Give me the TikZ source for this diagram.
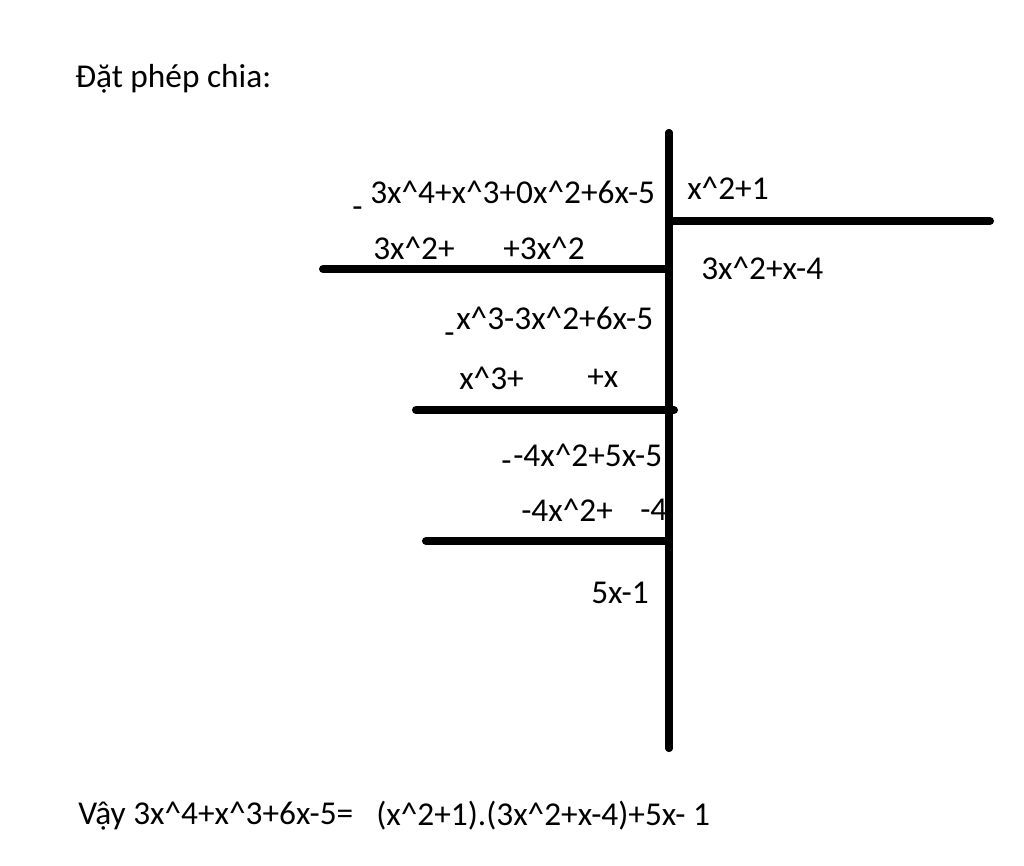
\documentclass[tikz,border=0pt]{standalone}
\usepackage{fontspec}
\setmainfont{Carlito}
\begin{document}
\begin{tikzpicture}[x=0.75pt,y=-0.75pt,
  bar/.style={line width=6pt,line cap=round},
  t/.style={anchor=west,inner sep=0pt,font=\fontsize{25}{28}\selectfont}]
\useasboundingbox[fill=white] (0,0) rectangle (1024,865);
\coordinate (vt) at (669,133); \coordinate (vb) at (669,748);
\draw[bar] (vt) -- (vb);
\coordinate (r1) at (672,221); \coordinate (r2) at (990,221);
\draw[bar] (r1) -- (r2);
\coordinate (a1) at (323,269); \coordinate (a2) at (665,269);
\draw[bar] (a1) -- (a2);
\coordinate (b1) at (416,410); \coordinate (b2) at (674,410);
\draw[bar] (b1) -- (b2);
\coordinate (c1) at (426,541); \coordinate (c2) at (665,541);
\draw[bar] (c1) -- (c2);
\node[t] (h) at (75,79) {Đặt phép chia:};
\node[t] (d1) at (352,212) {-};
\node[t] (p) at (370,192) {3x\^{}4+x\^{}3+0x\^{}2+6x-5};
\node[t] (q) at (687,188) {x\^{}2+1};
\node[t] (s1) at (373,248) {3x\^{}2+};
\node[t] (s2) at (503,248) {+3x\^{}2};
\node[t] (qq) at (701,268) {3x\^{}2+x-4};
\node[t] (d2) at (444,338) {-};
\node[t] (r1t) at (456,318) {x\^{}3-3x\^{}2+6x-5};
\node[t] (s3) at (459,378) {x\^{}3+};
\node[t] (s4) at (587,378) {+x};
\node[t] (d3) at (501,466) {-};
\node[t] (r2t) at (513,455) {-4x\^{}2+5x-5};
\node[t] (s5) at (521,510) {-4x\^{}2+};
\node[t] (s6) at (640,510) {-4};
\node[t] (r3) at (591,593) {5x-1};
\node[t] (v1) at (78,816) {Vậy 3x\^{}4+x\^{}3+6x-5=};
\node[t] (v2) at (376,816) {(x\^{}2+1).(3x\^{}2+x-4)+5x- 1};
\draw[bar] (vt) -- (vb);
\end{tikzpicture}
\end{document}
